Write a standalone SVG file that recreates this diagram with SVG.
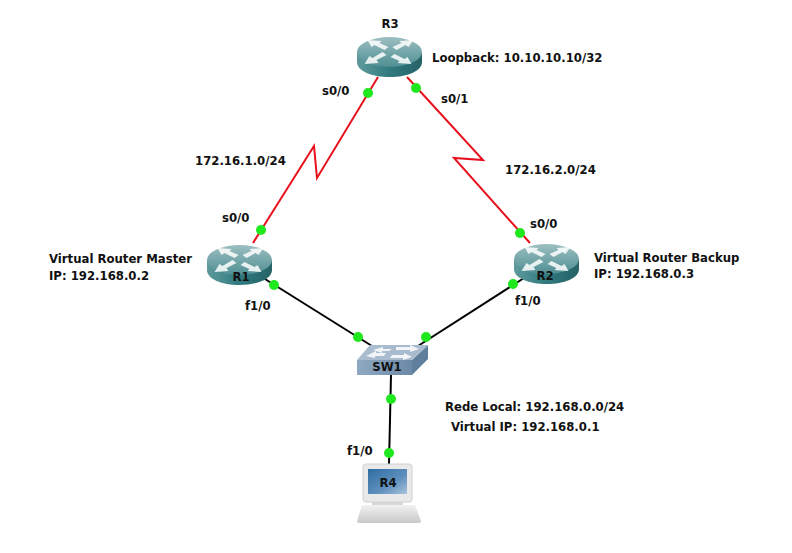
<svg xmlns="http://www.w3.org/2000/svg" width="792" height="553" viewBox="0 0 792 553">
<style>
text{font-family:"DejaVu Sans","Liberation Sans",sans-serif;font-size:11.700px;font-weight:bold;fill:#111}
.red{fill:none;stroke:#e8101c;stroke-width:2}
.blk{fill:none;stroke:#000;stroke-width:2}
.dot{fill:#1fe81f}
.arr{fill:#fff;opacity:.85}
</style>
<defs>
<linearGradient id="rt" x1="0" y1="0" x2="0" y2="1"><stop offset="0" stop-color="#9dbfc1"/><stop offset="1" stop-color="#4f8f93"/></linearGradient>
<linearGradient id="rb" x1="0" y1="0" x2="1" y2="0"><stop offset="0" stop-color="#5f9a9c"/><stop offset=".5" stop-color="#2f7a7e"/><stop offset="1" stop-color="#266266"/></linearGradient>
<linearGradient id="sb" x1="0" y1="0" x2="1" y2="0"><stop offset="0" stop-color="#8fa9c2"/><stop offset="1" stop-color="#6c89a6"/></linearGradient>
<linearGradient id="pc" x1="0" y1="0" x2="1" y2="1"><stop offset="0" stop-color="#2f6da3"/><stop offset=".6" stop-color="#5f90bd"/><stop offset="1" stop-color="#a9c3da"/></linearGradient>
<linearGradient id="base" x1="0" y1="0" x2="0" y2="1"><stop offset="0" stop-color="#f1f1f1"/><stop offset="1" stop-color="#c9c9c9"/></linearGradient>
<g id="router">
<path d="M-32.500 15V25C-32.500 34 -18 40 0 40S32.500 34 32.500 25V15Z" fill="url(#rb)"/>
<ellipse cx="0" cy="15" rx="32.500" ry="15" fill="url(#rt)"/>
<path class="arr" d="M-22 3L-8 4L-10 6L-1 10L-5 13L-15 8L-18 10Z"/>
<path class="arr" d="M22 27L8 26L10 24L1 20L5 17L15 22L18 20Z"/>
<path class="arr" d="M24 3L10 4L12 6L3 10L7 13L16 8L19 10Z"/>
<path class="arr" d="M-25 27L-11 26L-13 23L-3 18L-7 15L-17 21L-20 19Z"/>
</g>
</defs>
<rect width="792" height="553" fill="#fff"/>
<g id="connectors">
<path class="red" d="M378 77L317 178L314 146L253 243"/>
<path class="red" d="M407 77L483 160L454 158L530 243"/>
<path class="blk" d="M265 279L372 346"/>
<path class="blk" d="M524 278L418 346"/>
<path class="blk" d="M391 375L389 464"/>
</g>
<g id="R3"><use href="#router" x="389.500" y="37"/><text x="390" y="28" text-anchor="middle">R3</text></g>
<g id="R1"><use href="#router" x="239.500" y="245"/><text x="241" y="281" text-anchor="middle">R1</text></g>
<g id="R2"><use href="#router" x="546.500" y="244"/><text x="545" y="280" text-anchor="middle">R2</text></g>
<g id="SW1">
<path d="M357 360H412V375H357Z" fill="url(#sb)"/>
<path d="M412 360L428 345V359L412 375Z" fill="#5f7f9c"/>
<path d="M357 360L370 345H428L412 360Z" fill="#a9bccf"/>
<path class="arr" d="M366 356L376 351L376 353L386 353L384 356L375 356L375 358Z"/>
<path class="arr" d="M396 347H410V345L419 349L410 352V350H396Z"/>
<path class="arr" d="M392 355H404V353L412 357L403 360V358H390Z"/>
<path class="arr" d="M373 350L383 347V349H392L389 351H382V353Z"/>
<text x="387" y="371" text-anchor="middle">SW1</text>
</g>
<g id="R4">
<rect x="372" y="498" width="31" height="9" fill="#d8d8d8"/>
<rect x="363" y="464" width="49" height="38" rx="3" fill="#e9e9e9" stroke="#d0d0d0"/>
<rect x="368" y="469" width="39" height="25" fill="url(#pc)"/>
<path d="M362 505H415L421 521Q421 523 418 523H360Q357 523 357 521Z" fill="url(#base)"/>
<text x="388" y="487" text-anchor="middle">R4</text>
</g>
<g id="ports">
<circle class="dot" cx="368" cy="93" r="5"/><circle class="dot" cx="416" cy="88" r="5"/>
<circle class="dot" cx="261" cy="230" r="5"/><circle class="dot" cx="520" cy="233" r="5"/>
<circle class="dot" cx="274" cy="285" r="5"/><circle class="dot" cx="513" cy="284" r="5"/>
<circle class="dot" cx="358" cy="337" r="5"/><circle class="dot" cx="426" cy="337" r="5"/>
<circle class="dot" cx="391" cy="399" r="5"/><circle class="dot" cx="389" cy="453" r="5"/>
</g>
<g id="labels">
<text x="432" y="62">Loopback: 10.10.10.10/32</text>
<text x="322" y="95">s0/0</text>
<text x="441" y="103">s0/1</text>
<text x="195" y="165">172.16.1.0/24</text>
<text x="505" y="174">172.16.2.0/24</text>
<text x="222" y="222">s0/0</text>
<text x="530" y="228">s0/0</text>
<text x="49" y="263">Virtual Router Master</text>
<text x="49" y="280">IP: 192.168.0.2</text>
<text x="594" y="262">Virtual Router Backup</text>
<text x="594" y="278">IP: 192.168.0.3</text>
<text x="245" y="310">f1/0</text>
<text x="515" y="305">f1/0</text>
<text x="445" y="411">Rede Local: 192.168.0.0/24</text>
<text x="451" y="431">Virtual IP: 192.168.0.1</text>
<text x="347" y="455">f1/0</text>
</g>
</svg>
